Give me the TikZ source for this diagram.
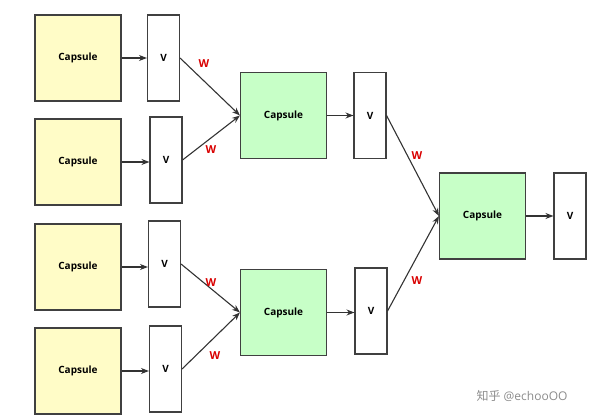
\documentclass[tikz,border=0pt]{standalone}
\usepackage{fontspec}
\setmainfont{Open Sans}
\newfontfamily\cjk{Noto Sans CJK SC}
\usetikzlibrary{arrows.meta}
\begin{document}
\begin{tikzpicture}[x=1pt,y=-1pt,
  capbox/.style={draw=black!75,line width=1.1pt,minimum width=86pt,minimum height=86pt,font=\fontsize{10}{11}\selectfont\bfseries,inner sep=0},
  y1/.style={capbox,fill=yellow!22},
  g1/.style={capbox,fill=green!22},
  vb/.style={draw=black!75,line width=1.1pt,fill=white,minimum width=32pt,minimum height=86pt,font=\fontsize{10}{11}\selectfont\bfseries,inner sep=0},
  ar/.style={-{Stealth[length=8pt,width=6pt]},draw=black!80,line width=1.1pt},
  w/.style={text=red!85!black,font=\fontsize{11}{12}\selectfont\bfseries}]
\useasboundingbox (0,0) rectangle (600,419);
\node[y1] (c1) at (78,58) {Capsule};
\node[y1] (c2) at (78,162) {Capsule};
\node[y1] (c3) at (78,267) {Capsule};
\node[y1] (c4) at (78,371) {Capsule};
\node[vb] (v1) at (163.5,58) {V};
\node[vb] (v2) at (166,160) {V};
\node[vb] (v3) at (164.5,264) {V};
\node[vb] (v4) at (165.5,369) {V};
\node[g1] (m1) at (283.5,115.5) {Capsule};
\node[g1] (m2) at (283.5,312.5) {Capsule};
\node[vb] (mv1) at (370,115.5) {V};
\node[vb] (mv2) at (371,311) {V};
\node[g1] (r) at (482.5,216) {Capsule};
\node[vb] (rv) at (570,216) {V};
\foreach \a/\b in {c1/v1,c2/v2,c3/v3,c4/v4,m1/mv1,m2/mv2,r/rv}
  \draw[ar] (\a.east) -- (\a.east -| \b.west);
\draw[ar] (v1.east) -- (m1.west);
\draw[ar] (v2.east) -- (m1.west);
\draw[ar] (v3.east) -- (m2.west);
\draw[ar] (v4.east) -- (m2.west);
\draw[ar] (mv1.east) -- (r.west);
\draw[ar] (mv2.east) -- (r.west);
\node[w] (w1) at (204,64) {W};
\node[w] (w2) at (211,150) {W};
\node[w] (w3) at (211,283) {W};
\node[w] (w4) at (215,356) {W};
\node[w] (w5) at (417,156) {W};
\node[w] (w6) at (417,281) {W};
\node[text=black!45,font=\fontsize{12}{13}\selectfont] (wm) at (522,396) {{\cjk 知乎} @echooOO};
\end{tikzpicture}
\end{document}
